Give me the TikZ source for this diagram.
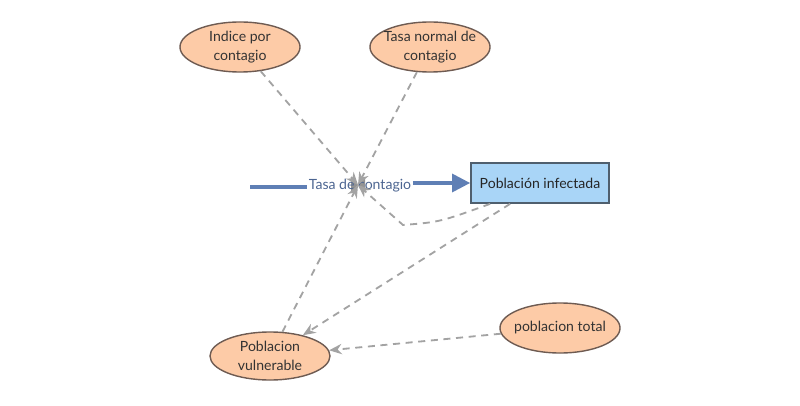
\documentclass[tikz,border=0pt]{standalone}
\usepackage{fontspec}
\setmainfont{Lato}
\usepackage{tikz}
\usetikzlibrary{calc}
\usetikzlibrary{shapes.geometric}
\usetikzlibrary{arrows, arrows.meta}

\definecolor{durazno}{HTML}{FDCBA7}
\definecolor{bordedurazno}{HTML}{6E5B52}
\definecolor{celeste}{HTML}{A9D5F7}
\definecolor{bordeceleste}{HTML}{4F5F6E}
\definecolor{flujo}{HTML}{5F7FB5}
\definecolor{enlace}{HTML}{A3A3A3}

\begin{document}
\begin{tikzpicture}[x=0.025cm, y=-0.025cm,
	auxiliar/.style={ellipse, draw=bordedurazno, line width=1pt, fill=durazno,
		minimum width=3cm, minimum height=1.25cm, inner xsep=-3pt, inner ysep=0pt,
		align=center, text=black!80, font=\fontsize{10}{13.5}\selectfont},
	nivel/.style={rectangle, draw=bordeceleste, line width=1.2pt, fill=celeste,
		minimum width=3.45cm, minimum height=1cm, text=black!85,
		font=\fontsize{10}{13.5}\selectfont},
	influencia/.style={line width=1.3pt, enlace, dash pattern=on 5pt off 4pt,
		-{Stealth[length=3.2mm, width=2.6mm]}}]

\useasboundingbox (0,0) rectangle (800,406);

\node[auxiliar] (indice) at (240,47) {Indice por\\contagio};
\node[auxiliar] (tasanormal) at (430,47) {Tasa normal de\\contagio};
\node[nivel] (infectada) at (540,183) {Población infectada};
\node[auxiliar, minimum height=1.2cm] (vulnerable) at (270,356) {Poblacion\\vulnerable};
\node[auxiliar] (total) at (560,328) {poblacion total};

\coordinate (fuente) at (250,187);
\coordinate (valvula) at (358,185);

% valvula del flujo
\fill[enlace!90!black] (valvula) +(-7,-7) -- +(7,7) -- +(7,-7) -- +(-7,7) -- cycle;
\node[font=\fontsize{10}{13.5}\selectfont, text=flujo!80!black, inner sep=1pt]
	(tasa) at (360,186) {Tasa de contagio};

\draw [line width=2.2pt, flujo] (fuente) -- (fuente -| tasa.west);
\draw [line width=2.2pt, flujo, -{Triangle[length=4.5mm, width=4.5mm]}]
	(tasa.east |- infectada.west) -- (infectada.west);

\draw [influencia] (indice) -- (valvula);
\draw [influencia] (tasanormal) -- (valvula);
\draw [influencia] (vulnerable) -- (valvula);
\draw [influencia] ($(infectada.south west)+(20,0)$)
	.. controls (440,222) .. (403,225) -- (valvula);
\draw [influencia] ($(infectada.south west)+(40,0)$) -- (vulnerable);
\draw [influencia] (total) -- (vulnerable);

\end{tikzpicture}
\end{document}
